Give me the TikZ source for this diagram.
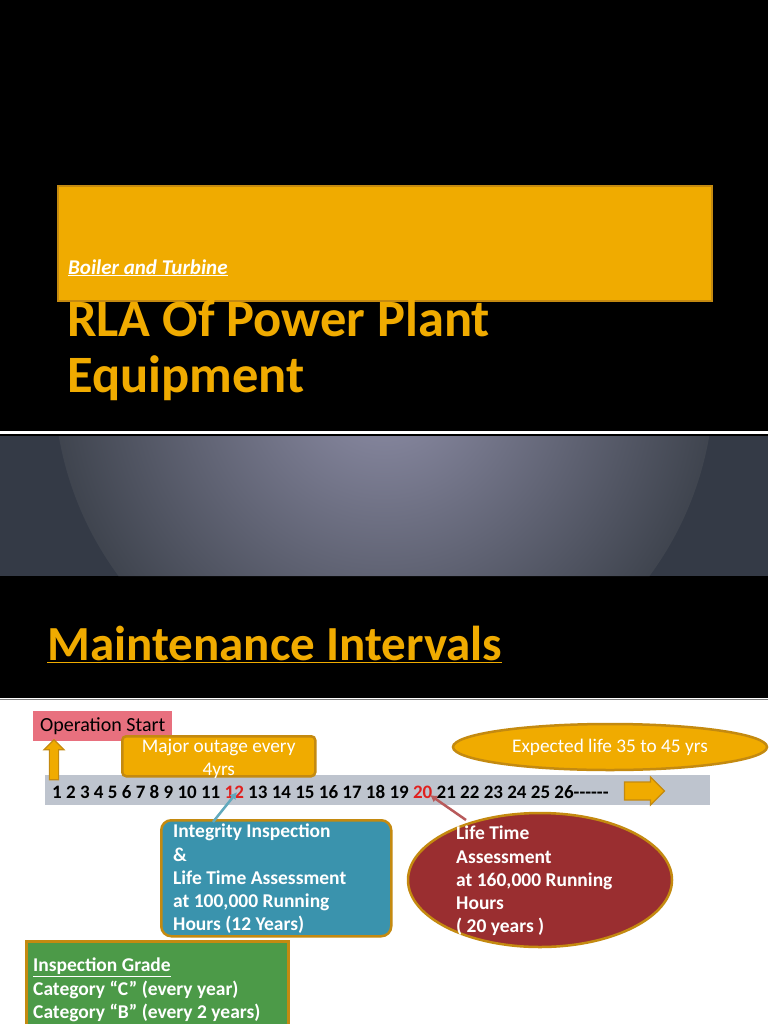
\documentclass[tikz,border=0pt]{standalone}
\usepackage{fontspec}
\setmainfont{Carlito}
\usetikzlibrary{shapes.geometric,shapes.arrows,arrows.meta}
\definecolor{org}{HTML}{F0AB00}
\definecolor{orgd}{HTML}{C48A10}
\definecolor{slate}{HTML}{343A46}
\definecolor{bar}{HTML}{BEC4CE}
\definecolor{blu}{HTML}{3A93AD}
\definecolor{rd}{HTML}{9A2E30}
\definecolor{grn}{HTML}{4C9A48}
\definecolor{pnk}{HTML}{E8707E}
\definecolor{red2}{HTML}{E0201E}
\tikzset{wt/.style={text=white,font=\fontsize{19.5}{23.2}\selectfont\bfseries,align=left},
ob/.style={line width=2.5pt,draw=orgd}}
\begin{document}
\begin{tikzpicture}[x=1pt,y=-1pt]
\useasboundingbox (0,0) rectangle (768,1024);
\fill[black] (0,0) rectangle (768,698);
\fill[white] (0,698) rectangle (768,1024);
\fill[white] (0,431) rectangle (768,434);
\fill[slate] (0,436) rectangle (768,576);
\begin{scope}
\clip (30,436) .. controls (60,520) and (90,560) .. (100,576) -- (668,576) .. controls (680,560) and (710,520) .. (738,436) -- cycle;
\shade[inner color=gray!75!white!90!blue, outer color=slate!85!gray] (384,380) circle (330);
\end{scope}
\draw[gray,line width=1pt] (0,699) -- (768,699);
\node[fill=org,draw=orgd,line width=2pt,minimum width=654,minimum height=115,anchor=north west] (top) at (57,185) {};
\node[anchor=base west,text=white,inner sep=0,font=\fontsize{21}{20}\selectfont\itshape\bfseries] (bt) at (68,274) {\underline{Boiler and Turbine}};
\node[anchor=base west,text=org,inner sep=0,font=\fontsize{52.5}{57}\selectfont\bfseries] (title) at (67,336) {RLA Of Power Plant};
\node[anchor=base west,text=org,inner sep=0,font=\fontsize{52.5}{57}\selectfont\bfseries] (eq) at (67,392) {Equipment};
\node[anchor=base west,text=org,inner sep=0,font=\fontsize{49}{50}\selectfont\bfseries] (mi) at (47,660) {\underline{Maintenance Intervals}};
\node[fill=bar,minimum width=665,minimum height=30,anchor=north west,inner sep=0] (bar) at (45,775) {};
\node[fill=pnk,minimum width=139,minimum height=30,anchor=north west,inner sep=0] (os) at (33,711) {};
\node[font=\fontsize{20}{18}\selectfont] at (os.center) {Operation Start};
\node[single arrow,shape border rotate=90,fill=org,draw=orgd,line width=1.2pt,minimum height=40,minimum width=20,single arrow head extend=3,inner sep=2pt] (ua) at (54,762) {};
\node[single arrow,fill=org,draw=orgd,line width=1.2pt,minimum height=40,minimum width=28,single arrow head extend=2,inner sep=3pt] (ra) at (640,791) {};
\node[fill=org,ob,rounded corners=4,minimum width=193,minimum height=40,anchor=north west] (mo) at (121,735) {};
\node[text=white,font=\fontsize{19.3}{23}\selectfont,align=center] at ([yshift=-3]mo.center) {Major outage every\\4yrs};
\node[ellipse,fill=org,ob,minimum width=314,minimum height=46] (el) at (610,747) {};
\node[text=white,font=\fontsize{19.3}{18}\selectfont] at (el.center) {Expected life 35 to 45 yrs};
\node[anchor=base west,inner sep=0,font=\fontsize{19}{18}\selectfont\bfseries] (nums) at (52,798) {1 2 3 4 5 6 7 8 9 10 11 \textcolor{red2}{12} 13 14 15 16 17 18 19 \textcolor{red2}{20} 21 22 23 24 25 26{-}{-}{-}{-}{-}{-}};
\coordinate (p12) at (237,792);
\coordinate (p20) at (430,795);
\node[fill=blu,ob,rounded corners=10,minimum width=230,minimum height=116,anchor=north west] (bb) at (160,819) {};
\node[wt,anchor=north west,inner sep=0] at (173,824) {Integrity Inspection\\\&\\Life Time Assessment\\at 100,000 Running\\Hours (12 Years)};
\draw[-{Latex[length=7pt,width=8pt]},draw=blu!80,line width=2.5pt,fill=blu!80] (213,822) -- (p12);
\node[ellipse,fill=rd,ob,minimum width=264,minimum height=134] (re) at (540,880) {};
\node[wt,anchor=north west,inner sep=0] at (456,826) {Life Time\\Assessment\\at 160,000 Running\\Hours\\( 20 years )};
\draw[-{Latex[length=7pt,width=8pt]},draw=rd!70!pink,line width=2.5pt] (466,820) -- (p20);
\node[fill=grn,ob,minimum width=262,minimum height=100,anchor=north west] (gb) at (25,940) {};
\node[wt,anchor=north west,inner sep=0] at (33,958) {\underline{Inspection Grade}\\Category “C” (every year)\\Category “B” (every 2 years)};
\end{tikzpicture}
\end{document}
